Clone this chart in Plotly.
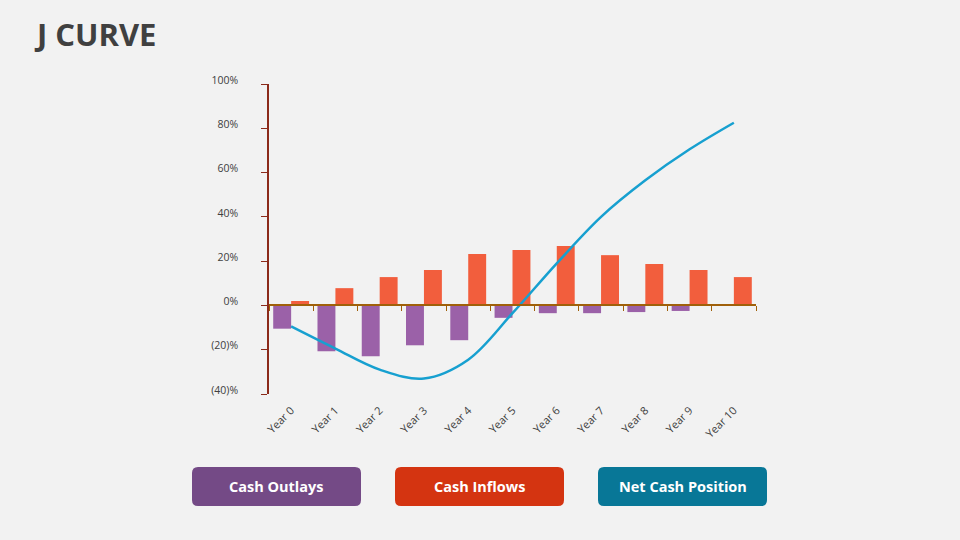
import plotly.graph_objects as go

categories = ["Year 0", "Year 1", "Year 2", "Year 3", "Year 4", "Year 5",
              "Year 6", "Year 7", "Year 8", "Year 9", "Year 10"]
cash_outlays = [-10.5, -20.7, -23, -18, -15.7, -5.6, -3.5, -3.5, -3, -2.5, 0]
cash_inflows = [2, 7.8, 12.8, 16, 23.2, 25, 26.8, 22.7, 18.7, 16, 12.8]
net_cash = [-9.5, -19.5, -29, -33, -24.5, -3.5, 19, 40, 56.5, 70.5, 82.5]

y_ticks = [-40, -20, 0, 20, 40, 60, 80, 100]
y_tick_text = ["(40)%", "(20)%", "0%", "20%", "40%", "60%", "80%", "100%"]

legend_items = [("Cash Outlays", "#744A86"), ("Cash Inflows", "#D43411"), ("Net Cash Position", "#087797")]

W, H = 960, 540
ML, MR, MT, MB = 269, 204, 84, 146
PW, PH = W - ML - MR, H - MT - MB
Y_MIN, Y_MAX = -40, 100

fig = go.Figure()
fig.add_trace(go.Bar(x=categories, y=cash_outlays, name="Cash Outlays",
                     marker=dict(color="#9B61A8", line=dict(width=0))))
fig.add_trace(go.Bar(x=categories, y=cash_inflows, name="Cash Inflows",
                     marker=dict(color="#F25E3D", line=dict(width=0))))
fig.add_trace(go.Scatter(x=categories, y=net_cash, name="Net Cash Position", mode="lines",
                         line=dict(color="#17A0D0", width=2.5, shape="spline", smoothing=1.0)))
# helper trace for the zero-line axis with boundary ticks
n = len(categories)
fig.add_trace(go.Scatter(x=[-0.5, n - 0.5], y=[0, 0], xaxis="x2", mode="lines",
                         line=dict(width=0), opacity=0, hoverinfo="skip", showlegend=False))

zero_pos = (0 - Y_MIN) / (Y_MAX - Y_MIN)

def px_x(p):
    return (p - ML) / PW

def px_y(p):
    return (H - MB - p) / PH

def rounded_rect(x0, y0, x1, y1, r):
    rx = r / PW
    ry = r / PH
    X0, X1 = px_x(x0), px_x(x1)
    Y0, Y1 = px_y(y1), px_y(y0)  # bottom, top in paper
    return (f"M {X0+rx},{Y0} L {X1-rx},{Y0} Q {X1},{Y0} {X1},{Y0+ry} "
            f"L {X1},{Y1-ry} Q {X1},{Y1} {X1-rx},{Y1} L {X0+rx},{Y1} "
            f"Q {X0},{Y1} {X0},{Y1-ry} L {X0},{Y0+ry} Q {X0},{Y0} {X0+rx},{Y0} Z")

shapes = []
annotations = []
box_w, box_h = 169, 39
box_lefts = [192, 395, 598]
box_top = 467
for (label, color), bx in zip(legend_items, box_lefts):
    shapes.append(dict(type="path", xref="paper", yref="paper",
                       path=rounded_rect(bx, box_top, bx + box_w, box_top + box_h, 6),
                       fillcolor=color, line=dict(width=0), layer="above"))
    annotations.append(dict(xref="paper", yref="paper", x=px_x(bx + box_w / 2),
                            y=px_y(box_top + box_h / 2), text=f"<b>{label}</b>",
                            showarrow=False, xanchor="center", yanchor="middle",
                            font=dict(family="Open Sans", size=14.5, color="white")))

fig.update_layout(
    width=W, height=H,
    paper_bgcolor="#F2F2F2", plot_bgcolor="#F2F2F2",
    margin=dict(l=ML, r=MR, t=MT, b=MB, pad=0),
    barmode="group", bargap=0.19, bargroupgap=0,
    showlegend=False,
    title=dict(text="<b>J CURVE</b>", xref="container", yref="container",
               x=37 / W, xanchor="left", y=1 - 35 / H, yanchor="middle",
               font=dict(family="Open Sans", size=31, color="#404040")),
    xaxis=dict(type="category", categoryorder="array", categoryarray=categories,
               range=[-0.5, n - 0.5], showline=False, showgrid=False, zeroline=False,
               ticks="", tickangle=-45, ticklabelstandoff=7,
               tickfont=dict(family="Open Sans", size=11, color="#404040")),
    xaxis2=dict(overlaying="x", anchor="free", position=zero_pos, range=[-0.5, n - 0.5],
                tickvals=[i - 0.5 for i in range(n + 1)], showticklabels=False,
                ticks="outside", ticklen=5, tickcolor="#A0600A", tickwidth=1.3,
                showline=True, linecolor="#A0600A", linewidth=1.5,
                showgrid=False, zeroline=False, side="bottom"),
    yaxis=dict(range=[Y_MIN, Y_MAX], tickvals=y_ticks, ticktext=y_tick_text,
               showgrid=False, zeroline=False, showline=True, linecolor="#8B2A1A", linewidth=1.5,
               ticks="outside", ticklen=6, tickcolor="#8B2A1A", ticklabelstandoff=21,
               ticklabelshift=-4,
               tickfont=dict(family="Open Sans", size=10.5, color="#404040")),
    shapes=shapes, annotations=annotations,
)

fig.write_html("out.html")
